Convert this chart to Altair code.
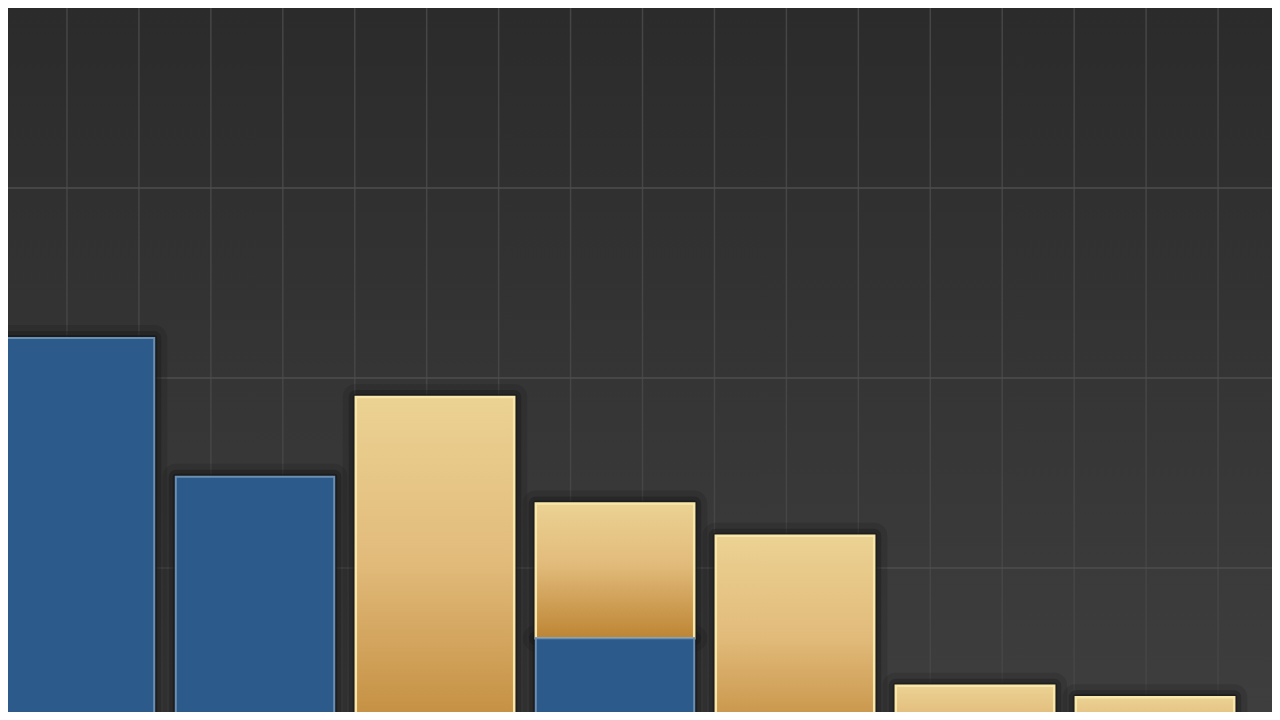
import altair as alt
import pandas as pd

# ---- data ----
categories = ["A", "B", "C", "D", "E", "F", "G"]
blue_values = [22.1, 14.8, 0.0, 6.3, 0.0, 0.0, 0.0]
gold_values = [0.0, 0.0, 19.0, 7.1, 11.7, 3.8, 3.2]
grid_x = list(range(0, 17))
grid_y = [10, 20, 30, 40]

df = pd.DataFrame({"cat": categories, "blue": blue_values, "gold": gold_values})
gx = pd.DataFrame({"g": grid_x})
bgdf = pd.DataFrame({"k": [0]})

W, H = 1264, 704

xband = alt.X("cat:N", sort=categories, axis=None,
              scale=alt.Scale(domain=categories, range=[-23, 1237],
                              paddingInner=0.12, paddingOuter=0.06))
yscale = alt.Scale(domain=[0, 40], range=[750, -10], nice=False, zero=False)

bg_grad = {"gradient": "linear", "x1": 0, "y1": 0, "x2": 0, "y2": 1,
           "stops": [{"offset": 0, "color": "#2b2b2b"},
                     {"offset": 1, "color": "#3e3e3e"}]}
gold_grad = {"gradient": "linear", "x1": 0, "y1": 0, "x2": 0, "y2": 1,
             "stops": [{"offset": 0, "color": "#ebd293"},
                       {"offset": 0.45, "color": "#e2bb7b"},
                       {"offset": 1, "color": "#bd8534"}]}

background = alt.Chart(bgdf).mark_rect(color=bg_grad).encode(
    x=alt.value(0), x2=alt.value(W), y=alt.value(0), y2=alt.value(H)
)

vgrid = alt.Chart(gx).mark_rule(color="#464646", strokeWidth=1.5).encode(
    x=alt.X("g:Q", axis=None, scale=alt.Scale(domain=[-0.82, 16.75], nice=False, zero=False))
)

hgrid = alt.Chart(pd.DataFrame({"v": grid_y})).mark_rule(color="#4e4e4e", strokeWidth=1.5).encode(
    y=alt.Y("v:Q", scale=yscale, axis=None)
)

base = alt.Chart(df).transform_calculate(
    top="datum.blue + datum.gold"
)

def shadows(filt, yfield, y2):
    layers = []
    for sw, so in [(26, 0.18), (14, 0.35), (6, 0.6)]:
        layers.append(
            base.transform_filter(filt).mark_bar(
                clip=True, fill="#161616", fillOpacity=0.0, stroke="#161616",
                strokeWidth=sw, strokeOpacity=so, strokeJoin="round"
            ).encode(x=xband, y=alt.Y(yfield, scale=yscale, axis=None), y2=y2)
        )
    return layers

gold = base.transform_filter("datum.gold > 0").mark_bar(
    clip=True, color=gold_grad, stroke="#f7e7ab", strokeWidth=2.5
).encode(x=xband, y=alt.Y("top:Q", scale=yscale), y2="blue:Q")

blue = base.transform_filter("datum.blue > 0").mark_bar(
    clip=True, color="#2c5a8b", stroke="#6b8fb3", strokeWidth=2
).encode(x=xband, y=alt.Y("blue:Q", scale=yscale), y2=alt.datum(0))

layers = [background, vgrid, hgrid]
layers += shadows("datum.blue > 0", "blue:Q", alt.datum(0))
layers += shadows("datum.gold > 0", "top:Q", "blue:Q")
layers += [gold, blue]

chart = alt.layer(*layers).resolve_scale(
    x="independent"
).properties(
    width=W, height=H, padding=0, autosize=alt.AutoSizeParams(type="none"),
    background="#2c2c2c"
).configure_view(
    stroke=None
)

chart.save("out.html", embed_options={"renderer": "svg", "actions": False})
